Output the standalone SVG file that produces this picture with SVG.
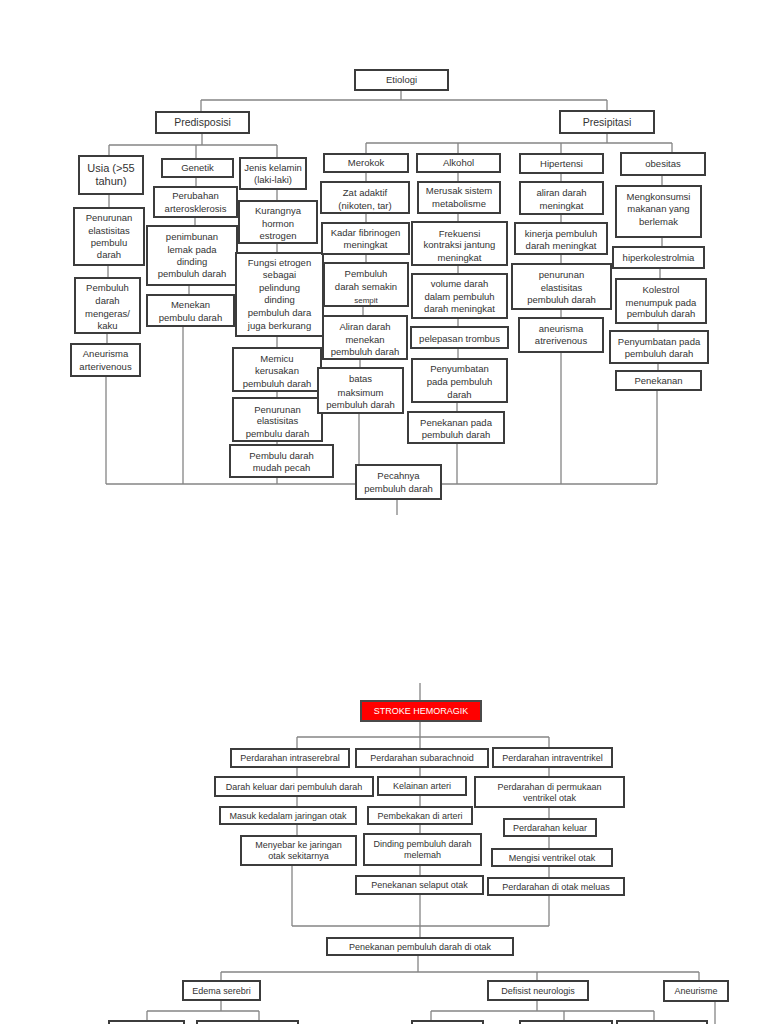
<svg xmlns="http://www.w3.org/2000/svg" width="768" height="1024" viewBox="0 0 768 1024">
<style>
.b{fill:#fff;stroke:#3c3c3c;stroke-width:2}
.r{fill:#ff0000;stroke:#4a4a4a;stroke-width:2}
.c{fill:none;stroke:#858585;stroke-width:1.3}
text{font-family:"Liberation Sans",Arial,sans-serif;font-size:9.5px;fill:#333;text-anchor:middle}
.s9 text{font-size:9px}
.big{font-size:10.5px}
.w{fill:#fff}
</style>
<rect width="768" height="1024" fill="#fff"/>
<g id="connectors" class="c">
<path d="M401,90V100M201,100H607M201,100V112M607,100V111"/>
<path d="M202,133V145M109,145H277M109,145V156M196,145V159M277,145V158"/>
<path d="M607,133V143M366,143H672M366,143V154M458,143V154M561,143V154M672,143V153"/>
<path d="M109,194V208M108,265V278M107,333V344M106,376V484"/>
<path d="M196,177V187M195,217V226M189,285V295M183,326V484"/>
<path d="M277,189V201M277,243V253M277,336V348M277,391V398M277,441V445M277,477V484"/>
<path d="M366,172V182M366,213V223M366,254V263M363,306V316M360,359V368M359,413V465"/>
<path d="M458,172V182M458,213V222M458,265V274M458,318V327M458,348V359M457,402V412M457,443V484"/>
<path d="M561,173V182M561,214V223M561,254V264M561,309V318M561,352V484"/>
<path d="M662,175V186M662,237V247M660,268V279M658,323V331M658,363V371M657,390V484"/>
<path d="M106,484H657M397,499V515"/>
<path d="M420,683V701M420,721V737M297,737H549M297,737V749M420,737V749M549,737V748"/>
<path d="M297,767V777M297,796V807M297,824V836M292,865V926"/>
<path d="M420,767V777M420,795V807M420,824V834M420,865V876M420,894V938"/>
<path d="M549,767V777M549,807V819M549,836V849M549,866V878M549,895V926"/>
<path d="M292,926H549"/>
<path d="M418,955V972M221,972H699M221,972V981M537,972V981M699,972V981"/>
<path d="M221,1000V1011M147,1011H259M147,1011V1021M259,1011V1021"/>
<path d="M537,1000V1011M431,1011H654M431,1011V1021M564,1011V1021M654,1011V1021M715,1001V1024"/>
</g>
<g id="n_etiologi"><rect class="b" x="355" y="70" width="93" height="20"/><text x="401.5" y="83.3">Etiologi</text></g>
<g id="n_predisposisi"><rect class="b" x="156" y="112" width="93" height="21"/><text class="big" x="202.5" y="126.2">Predisposisi</text></g>
<g id="n_presipitasi"><rect class="b" x="560" y="111" width="94" height="22"/><text class="big" x="607" y="125.7">Presipitasi</text></g>
<g id="n_usia"><rect class="b" x="79" y="156" width="64" height="38"/><text style="font-size:11px" x="111"><tspan x="111" y="172.4">Usia (&gt;55</tspan><tspan x="111" y="185.4">tahun)</tspan></text></g>
<g id="n_genetik"><rect class="b" x="162" y="159" width="71" height="18"/><text x="197.5" y="171.3">Genetik</text></g>
<g id="n_jenis"><rect class="b" x="240" y="158" width="66" height="31"/><text><tspan x="273" y="171.3">Jenis kelamin</tspan><tspan x="273" y="183.3">(laki-laki)</tspan></text></g>
<g id="n_merokok"><rect class="b" x="324" y="154" width="84" height="18"/><text x="366" y="166.3">Merokok</text></g>
<g id="n_alkohol"><rect class="b" x="417" y="154" width="83" height="18"/><text x="458.5" y="166.3">Alkohol</text></g>
<g id="n_hipertensi"><rect class="b" x="520" y="154" width="83" height="19"/><text x="561.5" y="166.8">Hipertensi</text></g>
<g id="n_obesitas"><rect class="b" x="621" y="153" width="84" height="22"/><text x="663" y="166.6">obesitas</text></g>
<g id="n_penurunan1"><rect class="b" x="74" y="208" width="70" height="57"/><text><tspan x="109" y="221.4">Penurunan</tspan><tspan x="109" y="233.7">elastisitas</tspan><tspan x="109" y="246">pembulu</tspan><tspan x="109" y="258.3">darah</tspan></text></g>
<g id="n_mengeras"><rect class="b" x="75" y="278" width="65" height="55"/><text><tspan x="107.5" y="291.3">Pembuluh</tspan><tspan x="107.5" y="304">darah</tspan><tspan x="107.5" y="316.5">mengeras/</tspan><tspan x="107.5" y="329">kaku</tspan></text></g>
<g id="n_aneurisma1"><rect class="b" x="71" y="344" width="69" height="32"/><text><tspan x="105.5" y="357.3">Aneurisma</tspan><tspan x="105.5" y="370.3">arterivenous</tspan></text></g>
<g id="n_perubahan"><rect class="b" x="154" y="187" width="83" height="30"/><text><tspan x="195.5" y="199.3">Perubahan</tspan><tspan x="195.5" y="212">arterosklerosis</tspan></text></g>
<g id="n_penimbunan"><rect class="b" x="147" y="226" width="90" height="59"/><text><tspan x="192" y="240">penimbunan</tspan><tspan x="192" y="252.6">lemak pada</tspan><tspan x="192" y="265">dinding</tspan><tspan x="192" y="277.3">pembuluh darah</tspan></text></g>
<g id="n_menekan"><rect class="b" x="147" y="295" width="87" height="31"/><text><tspan x="190.5" y="308.3">Menekan</tspan><tspan x="190.5" y="320.6">pembulu darah</tspan></text></g>
<g id="n_kurangnya"><rect class="b" x="239" y="201" width="78" height="42"/><text><tspan x="278" y="214.3">Kurangnya</tspan><tspan x="278" y="226.6">hormon</tspan><tspan x="278" y="239">estrogen</tspan></text></g>
<g id="n_fungsi"><rect class="b" x="236" y="253" width="87" height="83"/><text><tspan x="279.5" y="266">Fungsi etrogen</tspan><tspan x="279.5" y="278.4">sebagai</tspan><tspan x="279.5" y="291">pelindung</tspan><tspan x="279.5" y="303.4">dinding</tspan><tspan x="279.5" y="316">pembuluh dara</tspan><tspan x="279.5" y="328.6">juga berkurang</tspan></text></g>
<g id="n_memicu"><rect class="b" x="233" y="348" width="88" height="43"/><text><tspan x="277" y="361.6">Memicu</tspan><tspan x="277" y="374">kerusakan</tspan><tspan x="277" y="386.6">pembuluh darah</tspan></text></g>
<g id="n_penurunan2"><rect class="b" x="233" y="398" width="89" height="43"/><text><tspan x="277.5" y="412.6">Penurunan</tspan><tspan x="277.5" y="424.3">elastisitas</tspan><tspan x="277.5" y="436.6">pembulu darah</tspan></text></g>
<g id="n_mudahpecah"><rect class="b" x="230" y="445" width="103" height="32"/><text><tspan x="281.5" y="459.3">Pembulu darah</tspan><tspan x="281.5" y="471">mudah pecah</tspan></text></g>
<g id="n_zat"><rect class="b" x="321" y="182" width="88" height="31"/><text><tspan x="365" y="195.8">Zat adaktif</tspan><tspan x="365" y="209">(nikoten, tar)</tspan></text></g>
<g id="n_kadar"><rect class="b" x="322" y="223" width="87" height="31"/><text><tspan x="365.5" y="236">Kadar fibrinogen</tspan><tspan x="365.5" y="248.3">meningkat</tspan></text></g>
<g id="n_sempit"><rect class="b" x="324" y="263" width="84" height="43"/><text><tspan x="366" y="277.3">Pembuluh</tspan><tspan x="366" y="290">darah semakin</tspan><tspan x="366" y="302.6" style="font-size:8px">sempit</tspan></text></g>
<g id="n_aliran1"><rect class="b" x="323" y="316" width="84" height="43"/><text><tspan x="365" y="330">Aliran darah</tspan><tspan x="365" y="342.6">menekan</tspan><tspan x="365" y="355">pembuluh darah</tspan></text></g>
<g id="n_batas"><rect class="b" x="318" y="368" width="85" height="45"/><text><tspan x="360.5" y="382.3">batas</tspan><tspan x="360.5" y="395.6">maksimum</tspan><tspan x="360.5" y="408.3">pembuluh darah</tspan></text></g>
<g id="n_pecahnya"><rect class="b" x="356" y="465" width="85" height="34"/><text><tspan x="398.5" y="479.3">Pecahnya</tspan><tspan x="398.5" y="491.6">pembuluh darah</tspan></text></g>
<g id="n_merusak"><rect class="b" x="418" y="182" width="82" height="31"/><text><tspan x="459" y="194">Merusak sistem</tspan><tspan x="459" y="206.6">metabolisme</tspan></text></g>
<g id="n_frekuensi"><rect class="b" x="412" y="222" width="95" height="43"/><text><tspan x="459.5" y="236.6">Frekuensi</tspan><tspan x="459.5" y="248.3">kontraksi jantung</tspan><tspan x="459.5" y="260.6">meningkat</tspan></text></g>
<g id="n_volume"><rect class="b" x="412" y="274" width="95" height="44"/><text><tspan x="459.5" y="287.3">volume darah</tspan><tspan x="459.5" y="300">dalam pembuluh</tspan><tspan x="459.5" y="312.3">darah meningkat</tspan></text></g>
<g id="n_trombus"><rect class="b" x="411" y="327" width="97" height="21"/><text x="459.5" y="341.6">pelepasan trombus</text></g>
<g id="n_penyumbatan1"><rect class="b" x="412" y="359" width="95" height="43"/><text><tspan x="459.5" y="372.3">Penyumbatan</tspan><tspan x="459.5" y="385">pada pembuluh</tspan><tspan x="459.5" y="397.6">darah</tspan></text></g>
<g id="n_penekanan1"><rect class="b" x="408" y="412" width="96" height="31"/><text><tspan x="456" y="426">Penekanan pada</tspan><tspan x="456" y="438.3">pembuluh darah</tspan></text></g>
<g id="n_aliran2"><rect class="b" x="520" y="182" width="83" height="32"/><text><tspan x="561.5" y="196">aliran darah</tspan><tspan x="561.5" y="209">meningkat</tspan></text></g>
<g id="n_kinerja"><rect class="b" x="515" y="223" width="92" height="31"/><text><tspan x="561" y="236.6">kinerja pembuluh</tspan><tspan x="561" y="249">darah meningkat</tspan></text></g>
<g id="n_penurunan3"><rect class="b" x="512" y="264" width="99" height="45"/><text><tspan x="561.5" y="278.3">penurunan</tspan><tspan x="561.5" y="290.6">elastisitas</tspan><tspan x="561.5" y="303.3">pembuluh darah</tspan></text></g>
<g id="n_aneurisma2"><rect class="b" x="519" y="318" width="84" height="34"/><text><tspan x="561" y="332.3">aneurisma</tspan><tspan x="561" y="344">atrerivenous</tspan></text></g>
<g id="n_mengkonsumsi"><rect class="b" x="616" y="186" width="85" height="51"/><text><tspan x="658.5" y="200">Mengkonsumsi</tspan><tspan x="658.5" y="212.3">makanan yang</tspan><tspan x="658.5" y="225">berlemak</tspan></text></g>
<g id="n_hiperkol"><rect class="b" x="613" y="247" width="91" height="21"/><text x="658.5" y="260.6">hiperkolestrolmia</text></g>
<g id="n_kolestrol"><rect class="b" x="616" y="279" width="90" height="44"/><text><tspan x="661" y="292.6">Kolestrol</tspan><tspan x="661" y="305.6">menumpuk pada</tspan><tspan x="661" y="317.3">pembuluh darah</tspan></text></g>
<g id="n_penyumbatan2"><rect class="b" x="610" y="331" width="98" height="32"/><text><tspan x="659" y="345">Penyumbatan pada</tspan><tspan x="659" y="357.3">pembuluh darah</tspan></text></g>
<g id="n_penekanan2"><rect class="b" x="616" y="371" width="85" height="19"/><text x="658.5" y="384">Penekanan</text></g>
<g class="s9">
<g id="s_stroke"><rect class="r" x="361" y="701" width="120" height="20"/><text class="w" x="421" y="714.1">STROKE HEMORAGIK</text></g>
<g id="s_intraserebral"><rect class="b" x="231" y="749" width="118" height="18"/><text x="290" y="761.1">Perdarahan intraserebral</text></g>
<g id="s_subarachnoid"><rect class="b" x="356" y="749" width="132" height="18"/><text x="422" y="761.1">Perdarahan subarachnoid</text></g>
<g id="s_intraventrikel"><rect class="b" x="493" y="748" width="119" height="19"/><text x="552.5" y="760.6">Perdarahan intraventrikel</text></g>
<g id="s_darahkeluar"><rect class="b" x="215" y="777" width="158" height="19"/><text x="294" y="789.6">Darah keluar dari pembuluh darah</text></g>
<g id="s_kelainan"><rect class="b" x="378" y="777" width="88" height="18"/><text x="422" y="789.1">Kelainan arteri</text></g>
<g id="s_permukaan"><rect class="b" x="475" y="777" width="149" height="30"/><text><tspan x="549.5" y="789.8">Perdarahan  di permukaan</tspan><tspan x="549.5" y="800.8">ventrikel otak</tspan></text></g>
<g id="s_masuk"><rect class="b" x="220" y="807" width="136" height="17"/><text x="288" y="818.6">Masuk kedalam jaringan otak</text></g>
<g id="s_pembekakan"><rect class="b" x="368" y="807" width="104" height="17"/><text x="420" y="818.6">Pembekakan di arteri</text></g>
<g id="s_keluar"><rect class="b" x="504" y="819" width="92" height="17"/><text x="550" y="830.6">Perdarahan keluar</text></g>
<g id="s_menyebar"><rect class="b" x="241" y="836" width="115" height="29"/><text><tspan x="298.5" y="848.1">Menyebar ke jaringan</tspan><tspan x="298.5" y="859.1">otak sekitarnya</tspan></text></g>
<g id="s_dinding"><rect class="b" x="364" y="834" width="117" height="31"/><text><tspan x="422.5" y="847.4">Dinding pembuluh darah</tspan><tspan x="422.5" y="858.1">melemah</tspan></text></g>
<g id="s_mengisi"><rect class="b" x="492" y="849" width="120" height="17"/><text x="552" y="860.6">Mengisi ventrikel otak</text></g>
<g id="s_selaput"><rect class="b" x="356" y="876" width="127" height="18"/><text x="419.5" y="888.1">Penekanan selaput otak</text></g>
<g id="s_meluas"><rect class="b" x="488" y="878" width="136" height="17"/><text x="556" y="889.6">Perdarahan di otak meluas</text></g>
<g id="s_penekananotak"><rect class="b" x="327" y="938" width="186" height="17"/><text x="420" y="949.6">Penekanan  pembuluh darah di otak</text></g>
<g id="s_edema"><rect class="b" x="183" y="981" width="77" height="19"/><text x="221.5" y="993.6">Edema serebri</text></g>
<g id="s_defisist"><rect class="b" x="488" y="981" width="100" height="19"/><text x="538" y="993.6">Defisist neurologis</text></g>
<g id="s_aneurisme"><rect class="b" x="664" y="981" width="64" height="20"/><text x="696" y="994.1">Aneurisme</text></g>
<g id="s_cut1"><rect class="b" x="109" y="1021" width="75" height="20"/></g>
<g id="s_cut2"><rect class="b" x="197" y="1021" width="101" height="20"/></g>
<g id="s_cut3"><rect class="b" x="412" y="1021" width="71" height="20"/></g>
<g id="s_cut4"><rect class="b" x="520" y="1021" width="92" height="20"/></g>
<g id="s_cut5"><rect class="b" x="617" y="1021" width="90" height="20"/></g>
</g>
</svg>
